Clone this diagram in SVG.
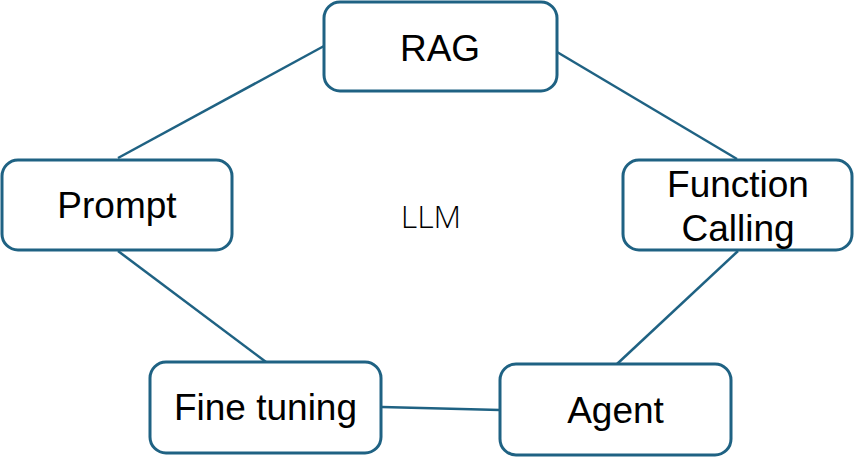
<svg xmlns="http://www.w3.org/2000/svg" width="855" height="458" viewBox="0 0 855 458">
<style>
.box{fill:#ffffff;stroke:#1f6283;stroke-width:3}
.edge{stroke:#1f6283;stroke-width:2.5;fill:none}
.lbl{font-family:"Liberation Sans",Arial,sans-serif;font-size:37px;fill:#000;text-anchor:middle}
.center{font-family:"Open Sans","Noto Sans",sans-serif;font-weight:300;font-size:32px;fill:#000;text-anchor:middle}
</style>
<rect width="855" height="458" fill="#ffffff"/>
<g id="connectors">
<line class="edge" x1="324" y1="46" x2="118" y2="158"/>
<line class="edge" x1="557" y1="52" x2="737" y2="159"/>
<line class="edge" x1="738" y1="251" x2="617" y2="364"/>
<line class="edge" x1="118" y1="251" x2="266" y2="362"/>
<line class="edge" x1="382" y1="407" x2="500" y2="410"/>
</g>
<g id="rag">
<rect class="box" x="324" y="2" width="233" height="89" rx="16"/>
<text class="lbl" x="440" y="61">RAG</text>
</g>
<g id="function-calling">
<rect class="box" x="623" y="160" width="229" height="90" rx="16"/>
<text class="lbl" x="738" y="197">Function</text>
<text class="lbl" x="738" y="241">Calling</text>
</g>
<g id="prompt">
<rect class="box" x="2" y="160" width="230" height="90" rx="16"/>
<text class="lbl" x="117" y="218">Prompt</text>
</g>
<g id="fine-tuning">
<rect class="box" x="150" y="362" width="231" height="91" rx="16"/>
<text class="lbl" x="265.5" y="420">Fine tuning</text>
</g>
<g id="agent">
<rect class="box" x="500" y="364" width="231" height="91" rx="16"/>
<text class="lbl" x="615.5" y="423">Agent</text>
</g>
<g id="llm">
<text class="center" x="431" y="228">LLM</text>
</g>
</svg>
